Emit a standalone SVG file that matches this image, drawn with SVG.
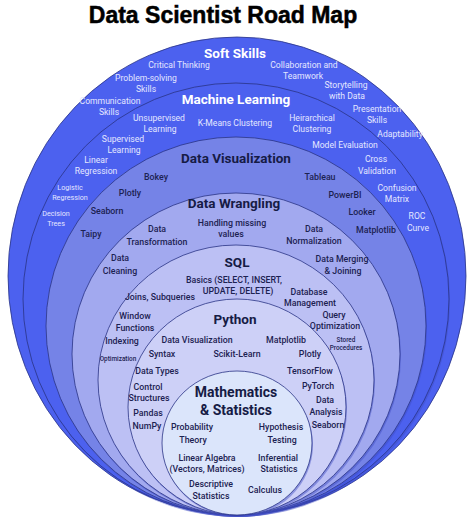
<svg xmlns="http://www.w3.org/2000/svg" width="474" height="519" viewBox="0 0 474 519">
<style>
.ring{stroke:#2a3385;stroke-width:0.8}
.shade{fill:#3d4cc4;opacity:0.45}
.t{font-family:Roboto,"Liberation Sans",sans-serif;text-anchor:middle}
.h{font-weight:700;font-size:13.5px}
.hl{fill:#ffffff}
.hd{fill:#161b45}
.l{font-size:8.6px;fill:#e4e7ff}
.d{font-size:8.8px;fill:#1c2252;font-weight:500}
.s{font-size:7.2px}
.xs{font-size:6.4px}
.title{font-family:"Liberation Sans",Arial,sans-serif;font-weight:700;font-size:23px;fill:#000;stroke:#000;stroke-width:0.5;text-anchor:middle}
</style>
<rect width="474" height="519" fill="#ffffff"/>
<text class="title" x="223" y="23">Data Scientist Road Map</text>

<g id="soft-skills">
<ellipse class="ring" cx="237" cy="276" rx="229" ry="239" fill="#4c61ef" stroke="#4656d8"/>
<text class="t h hl" x="235" y="58">Soft Skills</text>
<text class="t l" x="179" y="68">Critical Thinking</text>
<text class="t l" x="304" y="68">Collaboration and</text>
<text class="t l" x="303" y="79">Teamwork</text>
<text class="t l" x="146" y="81">Problem-solving</text>
<text class="t l" x="146" y="92">Skills</text>
<text class="t l" x="346" y="88">Storytelling</text>
<text class="t l" x="347" y="99">with Data</text>
<text class="t l" x="110" y="104">Communication</text>
<text class="t l" x="109" y="115">Skills</text>
<text class="t l" x="377" y="112">Presentation</text>
<text class="t l" x="377" y="123">Skills</text>
<text class="t l" x="400" y="137">Adaptability</text>
</g>

<g id="machine-learning">
<ellipse class="shade" cx="237" cy="301" rx="213" ry="216"/>
<ellipse class="ring" cx="236" cy="299" rx="213" ry="216" fill="#4c61ef"/>
<text class="t h hl" x="236" y="104">Machine Learning</text>
<text class="t l" x="159" y="121">Unsupervised</text>
<text class="t l" x="160" y="132">Learning</text>
<text class="t l" x="235" y="126">K-Means Clustering</text>
<text class="t l" x="312" y="121">Heirarchical</text>
<text class="t l" x="312" y="132">Clustering</text>
<text class="t l" x="123" y="142">Supervised</text>
<text class="t l" x="124" y="153">Learning</text>
<text class="t l" x="345" y="148">Model Evaluation</text>
<text class="t l" x="96" y="163">Linear</text>
<text class="t l" x="96" y="174">Regression</text>
<text class="t l" x="376" y="162">Cross</text>
<text class="t l" x="377" y="174">Validation</text>
<text class="t l s" x="70" y="190">Logistic</text>
<text class="t l s" x="70" y="200">Regression</text>
<text class="t l" x="397" y="191">Confusion</text>
<text class="t l" x="397" y="202">Matrix</text>
<text class="t l s" x="56" y="216">Decision</text>
<text class="t l s" x="56" y="226">Trees</text>
<text class="t l" x="417" y="219">ROC</text>
<text class="t l" x="418" y="231">Curve</text>
</g>

<g id="data-visualization">
<ellipse class="shade" cx="237" cy="328" rx="190" ry="189"/>
<ellipse class="ring" cx="236" cy="326" rx="190" ry="189" fill="#7583e7"/>
<text class="t h hd" x="236" y="163">Data Visualization</text>
<text class="t d" x="156" y="180">Bokey</text>
<text class="t d" x="320" y="180">Tableau</text>
<text class="t d" x="130" y="196">Plotly</text>
<text class="t d" x="345" y="198">PowerBI</text>
<text class="t d" x="107" y="214">Seaborn</text>
<text class="t d" x="362" y="215">Looker</text>
<text class="t d" x="91" y="237">Taipy</text>
<text class="t d" x="376" y="233">Matplotlib</text>
</g>

<g id="data-wrangling">
<ellipse class="shade" cx="237" cy="356" rx="164" ry="161"/>
<ellipse class="ring" cx="236" cy="354" rx="164" ry="161" fill="#a2a9ef"/>
<text class="t h hd" x="234" y="208">Data Wrangling</text>
<text class="t d" x="232" y="226">Handling missing</text>
<text class="t d" x="231" y="237">values</text>
<text class="t d" x="157" y="232">Data</text>
<text class="t d" x="157" y="245">Transformation</text>
<text class="t d" x="314" y="232">Data</text>
<text class="t d" x="314" y="244">Normalization</text>
<text class="t d" x="120" y="261">Data</text>
<text class="t d" x="120" y="274">Cleaning</text>
<text class="t d" x="342" y="262">Data Merging</text>
<text class="t d" x="343" y="274">&amp; Joining</text>
</g>

<g id="sql">
<ellipse class="shade" cx="237" cy="382" rx="138" ry="135"/>
<ellipse class="ring" cx="236" cy="380" rx="138" ry="135" fill="#bcc0f4"/>
<text class="t h hd" x="237" y="267">SQL</text>
<text class="t d" x="234" y="283">Basics (SELECT, INSERT,</text>
<text class="t d" x="238" y="294">UPDATE, DELETE)</text>
<text class="t d" x="160" y="300">Joins, Subqueries</text>
<text class="t d" x="309" y="295">Database</text>
<text class="t d" x="310" y="306">Management</text>
<text class="t d" x="135" y="319">Window</text>
<text class="t d" x="135" y="331">Functions</text>
<text class="t d" x="334" y="318">Query</text>
<text class="t d" x="335" y="329">Optimization</text>
<text class="t d" x="122" y="344">Indexing</text>
<text class="t d xs" x="346" y="342">Stored</text>
<text class="t d xs" x="346" y="350">Procedures</text>
<text class="t d xs" x="118" y="361">Optimization</text>
</g>

<g id="python">
<ellipse class="shade" cx="238" cy="409" rx="109" ry="108"/>
<ellipse class="ring" cx="237" cy="407" rx="109" ry="108" fill="#cdd0f7"/>
<text class="t h hd" x="235" y="324">Python</text>
<text class="t d" x="197" y="343">Data Visualization</text>
<text class="t d" x="286" y="343">Matplotlib</text>
<text class="t d" x="162" y="357">Syntax</text>
<text class="t d" x="237" y="357">Scikit-Learn</text>
<text class="t d" x="310" y="357">Plotly</text>
<text class="t d" x="157" y="374">Data Types</text>
<text class="t d" x="310" y="374">TensorFlow</text>
<text class="t d" x="148" y="390">Control</text>
<text class="t d" x="149" y="401">Structures</text>
<text class="t d" x="318" y="389">PyTorch</text>
<text class="t d" x="325" y="403">Data</text>
<text class="t d" x="326" y="415">Analysis</text>
<text class="t d" x="148" y="416">Pandas</text>
<text class="t d" x="147" y="429">NumPy</text>
<text class="t d" x="328" y="428">Seaborn</text>
</g>

<g id="mathematics-statistics">
<ellipse class="shade" cx="238" cy="445" rx="75" ry="72"/>
<ellipse class="ring" cx="237" cy="443" rx="75" ry="72" fill="#dbe5fb"/>
<text class="t h hd" x="236" y="397" style="font-size:14px">Mathematics</text>
<text class="t h hd" x="236" y="415" style="font-size:14px">&amp; Statistics</text>
<text class="t d" x="192" y="430">Probability</text>
<text class="t d" x="193" y="443">Theory</text>
<text class="t d" x="281" y="430">Hypothesis</text>
<text class="t d" x="282" y="443">Testing</text>
<text class="t d" x="207" y="461">Linear Algebra</text>
<text class="t d" x="207" y="472">(Vectors, Matrices)</text>
<text class="t d" x="278" y="461">Inferential</text>
<text class="t d" x="279" y="472">Statistics</text>
<text class="t d" x="211" y="487">Descriptive</text>
<text class="t d" x="211" y="499">Statistics</text>
<text class="t d" x="265" y="493">Calculus</text>
</g>
</svg>
